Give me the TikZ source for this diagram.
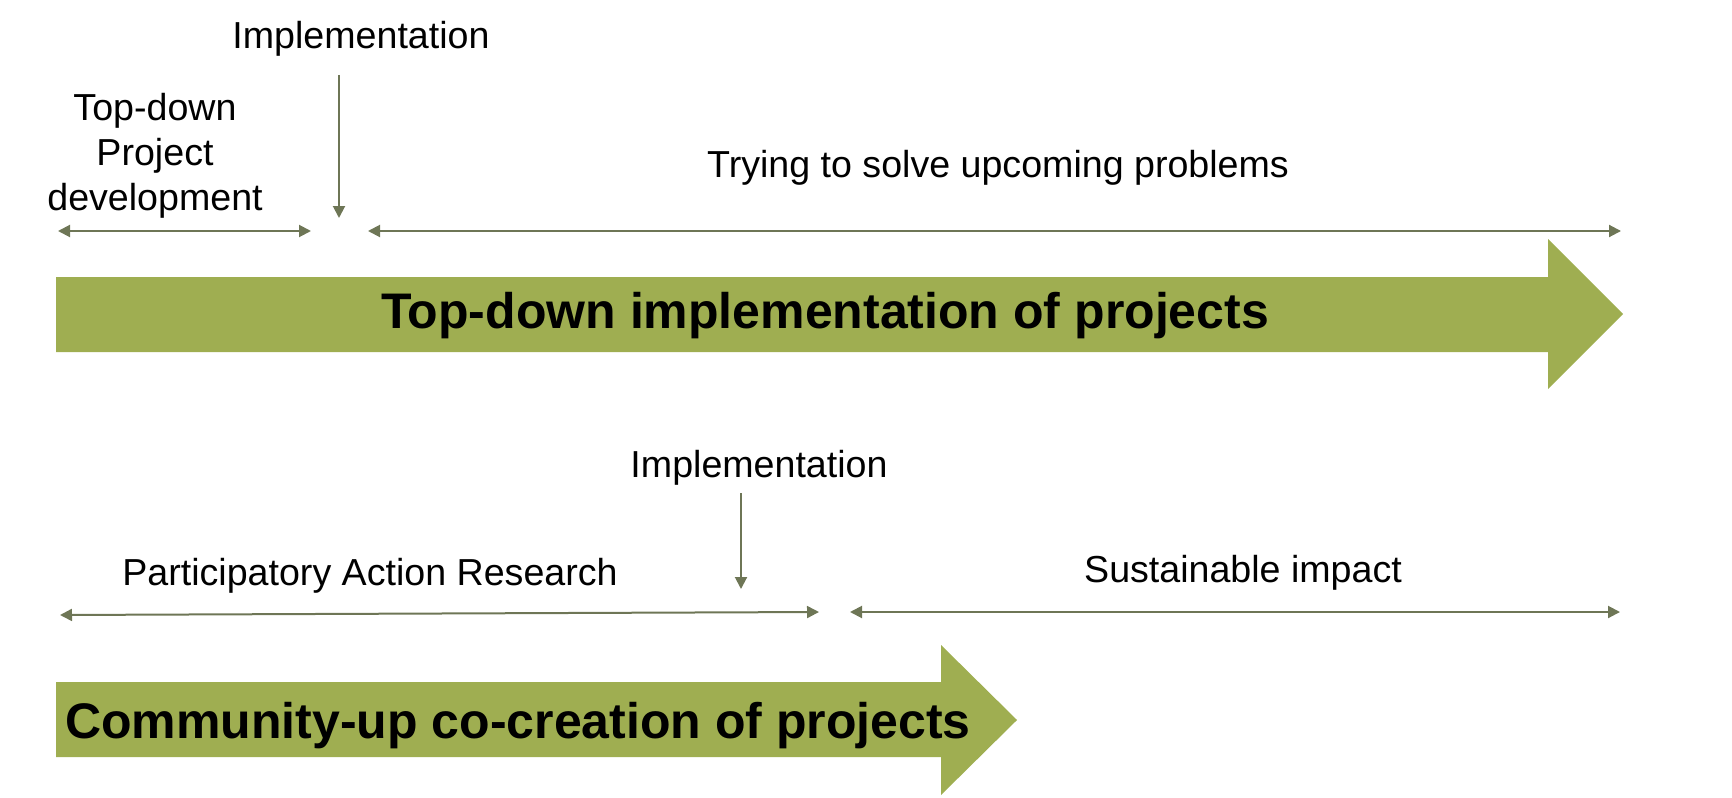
\documentclass[tikz,border=0pt]{standalone}
\usepackage{fontspec}
\setmainfont{Liberation Sans}
\usetikzlibrary{arrows.meta}
\definecolor{barGreen}{RGB}{159,174,81}
\definecolor{spanGrey}{RGB}{110,118,86}
\tikzset{Label/.style={font=\fontsize{18.8}{22.5}\selectfont, align=center, inner sep=0pt},
         Title/.style={font=\fontsize{25}{30}\selectfont\bfseries, inner sep=0pt},
         Bar/.style={fill=barGreen, draw=none}}

\begin{document}
\begin{tikzpicture}[x=0.5pt, y=-0.5pt, Span/.style={{Triangle[length=6pt,width=6pt]}-{Triangle[length=6pt,width=6pt]}, draw=spanGrey, line width=1pt}, Drop/.style={-{Triangle[length=6pt,width=6pt]}, draw=spanGrey, line width=1pt}]
        \useasboundingbox (0,0) rectangle (1732,797);

        % top row
        \fill[Bar] (56,277) -- (1548,277) -- (1548,239) -- (1623,314) -- (1548,389) -- (1548,352) -- (56,352) -- cycle;
        \node[Title, anchor=base] (topTitle) at (825,328) {Top-down implementation of projects};
        \node[Label, anchor=base] (impTop) at (361,49) {Implementation};
        \node[Label, anchor=north] (devTop) at (155,93) {Top-down\\Project\\development};
        \node[Label, anchor=base] (solveTop) at (998,177) {Trying to solve upcoming problems};

        \coordinate (devL) at (58,231);
        \coordinate (devR) at (311,231);
        \coordinate (solveL) at (368,231);
        \coordinate (solveR) at (1621,231);
        \coordinate (impTopA) at (339,75);
        \coordinate (impTopB) at (339,218);

        \draw[Span] (devL) -- (devR);
        \draw[Span] (solveL) -- (solveR);
        \draw[Drop] (impTopA) -- (impTopB);

        % bottom row
        \fill[Bar] (56,682) -- (941,682) -- (941,645) -- (1017,720) -- (941,795) -- (941,757) -- (56,757) -- cycle;
        \node[Title, anchor=base] (botTitle) at (518,738) {Community-up co-creation of projects};
        \node[Label, anchor=base] (impBot) at (759,477) {Implementation};
        \node[Label, anchor=base] (parBot) at (370,585) {Participatory Action Research};
        \node[Label, anchor=base] (susBot) at (1243,582) {Sustainable impact};

        \coordinate (parL) at (60,615);
        \coordinate (parR) at (819,612);
        \coordinate (susL) at (850,612);
        \coordinate (susR) at (1620,612);
        \coordinate (impBotA) at (741,493);
        \coordinate (impBotB) at (741,589);

        \draw[Span] (parL) -- (parR);
        \draw[Span] (susL) -- (susR);
        \draw[Drop] (impBotA) -- (impBotB);
    \end{tikzpicture}
\end{document}
